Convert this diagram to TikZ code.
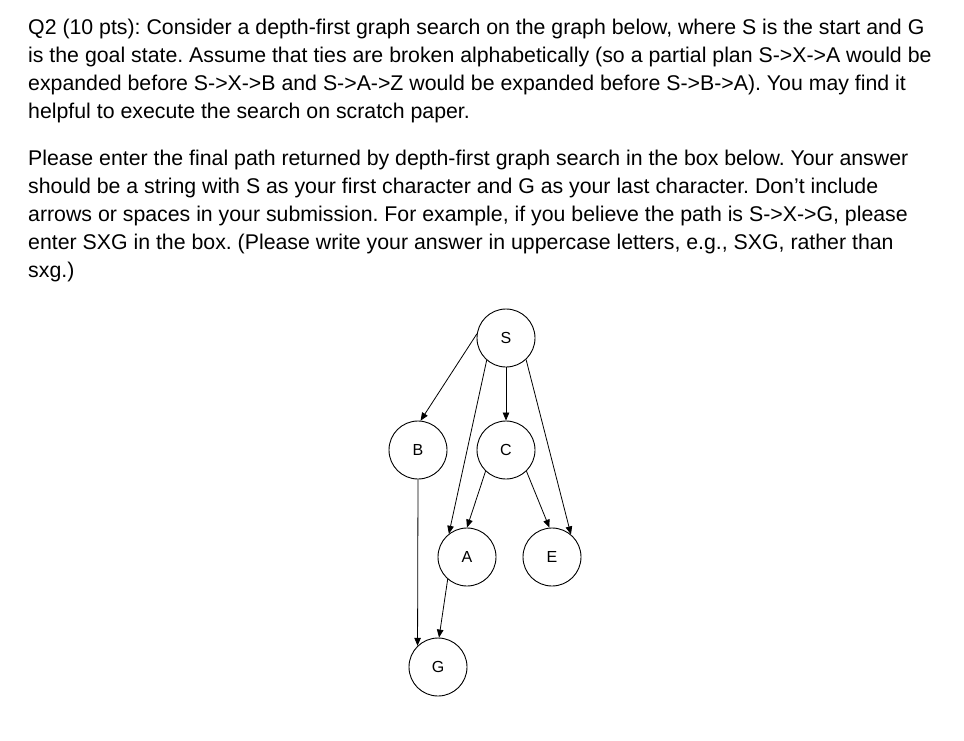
\documentclass[tikz,border=0pt]{standalone}
\usepackage{fontspec}
\setmainfont{Liberation Sans}
\usetikzlibrary{arrows.meta}
\begin{document}
\frenchspacing
\begin{tikzpicture}[x=1pt,y=-1pt,
  txt/.style={anchor=base west,inner sep=0pt,font=\fontsize{21.3}{24}\selectfont},
  st/.style={circle,draw,line width=0.9pt,minimum size=58pt,inner sep=0pt,font=\fontsize{16}{18}\selectfont},
  ed/.style={draw,line width=0.8pt,-{Triangle[length=8pt,width=6.5pt]}}]
\useasboundingbox (0,0) rectangle (964,740);
\node[txt] (l1) at (28,34) {Q2 (10 pts): Consider a depth-first graph search on the graph below, where S is the start and G};
\node[txt] (l2) at (28,62) {is the goal state. Assume that ties are broken alphabetically (so a partial plan S->X->A would be};
\node[txt] (l3) at (28,90) {expanded before S->X->B and S->A->Z would be expanded before S->B->A). You may find it};
\node[txt] (l4) at (28,118) {helpful to execute the search on scratch paper.};
\node[txt] (l5) at (28,165) {Please enter the final path returned by depth-first graph search in the box below. Your answer};
\node[txt] (l6) at (28,193) {should be a string with S as your first character and G as your last character. Don\char39 t include};
\node[txt] (l7) at (28,221) {arrows or spaces in your submission. For example, if you believe the path is S->X->G, please};
\node[txt] (l8) at (28,249) {enter SXG in the box. (Please write your answer in uppercase letters, e.g., SXG, rather than};
\node[txt] (l9) at (28,277) {sxg.)};
\node[st] (S) at (506,338) {S};
\node[st] (B) at (418,450) {B};
\node[st] (C) at (506,450) {C};
\node[st] (A) at (467,557) {A};
\node[st] (E) at (552,557) {E};
\node[st] (G) at (438,667) {G};
\draw[ed] (S.172) -- (B.85);
\draw[ed] (S.-131) -- (A.128);
\draw[ed] (S.south) -- (C.north);
\draw[ed] (S.-47) -- (E.50);
\draw[ed] (C.-134) -- (A.90);
\draw[ed] (C.-46) -- (E.95);
\draw[ed] (B.south) -- (G.134);
\draw[ed] (A.-131) -- (G.88);
\end{tikzpicture}
\end{document}
